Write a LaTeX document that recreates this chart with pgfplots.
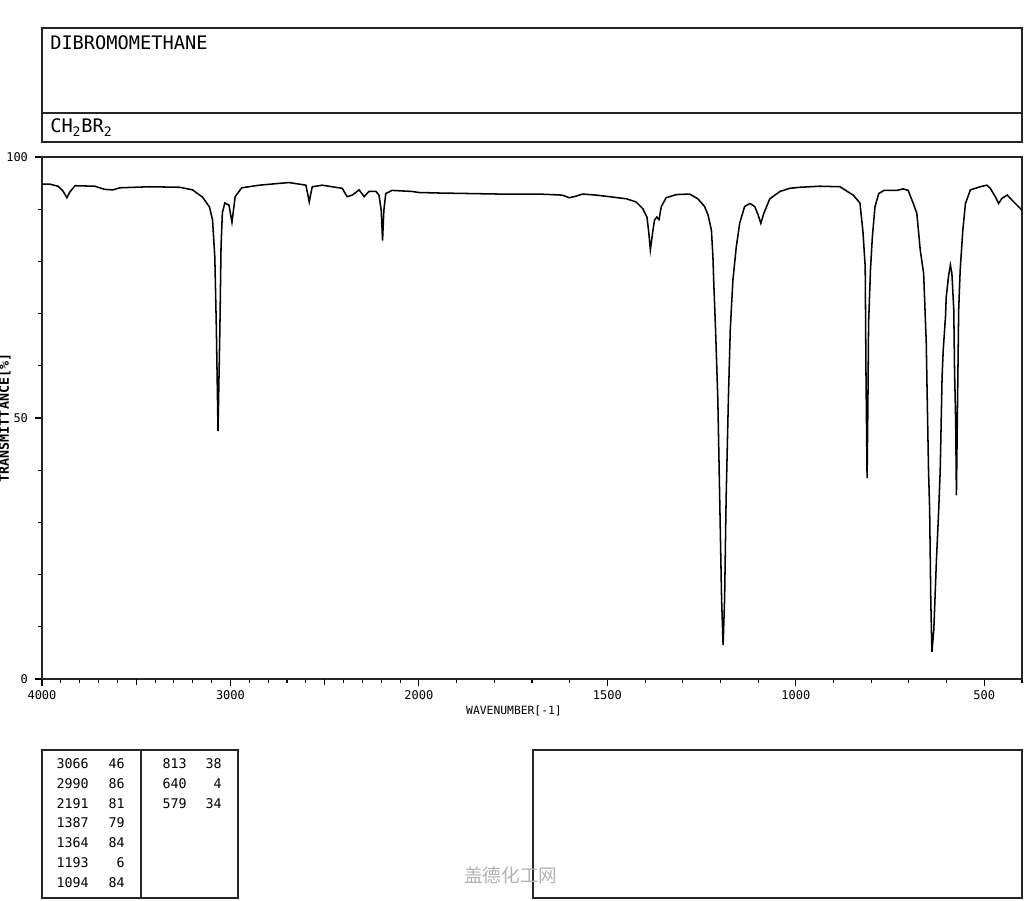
\documentclass[border=0pt]{standalone}
\usepackage{fontspec}
\setmainfont{DejaVu Sans Mono}
\newfontfamily\cjk{Noto Sans CJK SC}
\usepackage{pgfplots}
\pgfplotsset{compat=1.18}
\usepackage{pgfplotstable}
\pgfplotstableread{
wn T
4000 94.8
3958 94.8
3915 94.4
3889 93.5
3868 92.2
3852 93.3
3825 94.5
3720 94.4
3667 93.8
3624 93.7
3587 94.1
3429 94.3
3270 94.2
3201 93.7
3148 92.3
3111 90.4
3095 87.9
3083 80.8
3075 67.4
3066 47.5
3056 67.4
3050 82.8
3043 89.3
3030 91.2
3008 90.8
2992 87.5
2975 92.4
2940 94.1
2847 94.6
2725 95.0
2688 95.1
2600 94.6
2590 92.9
2582 91.4
2574 92.9
2566 94.3
2513 94.6
2407 94.0
2381 92.4
2354 92.7
2317 93.7
2291 92.4
2265 93.4
2228 93.4
2212 92.7
2200 89.8
2193 84.0
2186 89.8
2176 93.0
2143 93.6
2037 93.4
2000 93.2
1947 93.1
1787 92.9
1681 92.9
1620 92.7
1601 92.2
1583 92.5
1566 92.9
1530 92.7
1495 92.4
1450 92.0
1424 91.4
1406 90.1
1395 88.5
1390 85.4
1386 82.2
1380 85.5
1375 87.9
1369 88.5
1363 88.0
1357 90.5
1344 92.2
1317 92.8
1282 92.9
1260 92.0
1242 90.5
1233 88.9
1224 86.0
1220 80.9
1218 76.4
1213 66.9
1207 53.6
1202 34.5
1197 15.3
1193 6.5
1189 15.3
1185 34.5
1179 53.6
1174 66.9
1167 76.4
1158 82.8
1149 87.3
1136 90.5
1122 91.1
1109 90.5
1100 88.9
1093 87.3
1085 89.2
1069 92.0
1042 93.4
1016 94.0
989 94.2
936 94.4
883 94.3
848 92.7
830 91.2
822 85.7
816 79.0
814 59.2
811 38.5
809 51.5
807 68.2
802 78.4
797 84.7
790 90.5
780 93.0
766 93.6
732 93.6
715 93.9
702 93.6
689 91.2
679 89.2
670 82.2
661 77.7
654 64.4
652 56.0
648 40.0
645 32.4
642 15.0
639 5.2
634 9.4
627 22.8
621 32.4
617 40.0
612 57.9
609 63.0
603 69.4
601 73.2
595 77.1
590 79.3
586 77.7
581 70.7
579 59.2
576 49.5
574 35.2
571 53.0
568 70.7
564 78.4
557 86.0
550 91.1
537 93.7
511 94.3
493 94.6
484 94.0
471 92.4
462 91.1
453 92.1
439 92.7
426 91.7
408 90.4
400 89.8
}\spectrum

\begin{document}
\begin{tikzpicture}
\useasboundingbox (0pt,0pt) rectangle (768pt,675pt);
% header boxes
\draw[line width=0.9pt, black!85] (31.5pt,654pt) rectangle (766.5pt,568.5pt);
\draw[line width=0.9pt, black!85] (31.5pt,590.25pt) -- (766.5pt,590.25pt);
\node[anchor=base west, inner sep=0pt, font=\fontsize{14}{14}\selectfont] at (37.5pt,637.5pt) {DIBROMOMETHANE};
\node[anchor=base west, inner sep=0pt, font=\fontsize{14}{14}\selectfont] at (37.5pt,575.25pt) {CH\textsubscript{2}BR\textsubscript{2}};

\begin{axis}[
  at={(31.5pt,165.75pt)}, anchor=south west,
  scale only axis, width=735pt, height=391.5pt,
  xmin=0, xmax=5200, ymin=0, ymax=100,
  xtick={0,1000,2000,3000,4000,5000},
  xticklabels={4000,3000,2000,1500,1000,500},
  minor xtick={100,200,300,400,600,700,800,900,1100,1200,1300,1400,1600,1700,1800,1900,2200,2400,2600,2800,3200,3400,3600,3800,4200,4400,4600,4800,5200},
  extra x ticks={500,1500},
  extra x tick labels={},
  extra x tick style={major tick length=4.2pt},
  ytick={0,50,100},
  yticklabels={0,50,100},
  minor ytick={10,20,30,40,60,70,80,90},
  xtick pos=bottom, ytick pos=left,
  tick align=outside,
  major tick length=5.5pt, minor tick length=2.8pt,
  every tick/.style={black, line width=0.8pt},
  axis line style={line width=0.9pt, black!85},
  tick label style={font=\fontsize{9}{9}\selectfont},
  yticklabel style={xshift=-1.5pt},
  clip=true,
]
\addplot[black, line width=1.15pt, sharp plot] table[x expr={(\thisrow{wn}>=2000)*(4000-\thisrow{wn})+(\thisrow{wn}<2000)*(6000-2*\thisrow{wn})}, y=T] {\spectrum};
\end{axis}

% axis labels
\node[font=\fontsize{8.5}{8.5}\selectfont, inner sep=0pt] at (385.5pt,141.75pt) {WAVENUMBER[-1]};
\node[rotate=90, font=\bfseries\fontsize{10}{10}\selectfont, inner sep=0pt] at (3.5pt,361.5pt) {TRANSMITTANCE[\%]};

% peak table
\draw[line width=0.9pt, black!85] (31.5pt,112.5pt) rectangle (178.5pt,1.5pt);
\draw[line width=0.9pt, black!85] (105.75pt,112.5pt) -- (105.75pt,1.5pt);
\begin{scope}[every node/.style={anchor=east, inner sep=0pt, font=\fontsize{10}{10}\selectfont}]
\node at (66.75pt,102pt) {3066}; \node at (93.75pt,102pt) {46};
\node at (66.75pt,87.2pt) {2990}; \node at (93.75pt,87.2pt) {86};
\node at (66.75pt,72.45pt) {2191}; \node at (93.75pt,72.45pt) {81};
\node at (66.75pt,57.7pt) {1387}; \node at (93.75pt,57.7pt) {79};
\node at (66.75pt,42.9pt) {1364}; \node at (93.75pt,42.9pt) {84};
\node at (66.75pt,28.1pt) {1193}; \node at (93.75pt,28.1pt) {6};
\node at (66.75pt,13.35pt) {1094}; \node at (93.75pt,13.35pt) {84};
\node at (140.25pt,102pt) {813}; \node at (166.5pt,102pt) {38};
\node at (140.25pt,87.2pt) {640}; \node at (166.5pt,87.2pt) {4};
\node at (140.25pt,72.45pt) {579}; \node at (166.5pt,72.45pt) {34};
\end{scope}

% empty box
\draw[line width=0.9pt, black!85] (399.75pt,112.5pt) rectangle (766.5pt,1.5pt);

% watermark
\node[font=\cjk\fontsize{14}{14}\selectfont, text=black!30, inner sep=0pt] at (383pt,18.75pt) {盖德化工网};
\end{tikzpicture}
\end{document}
